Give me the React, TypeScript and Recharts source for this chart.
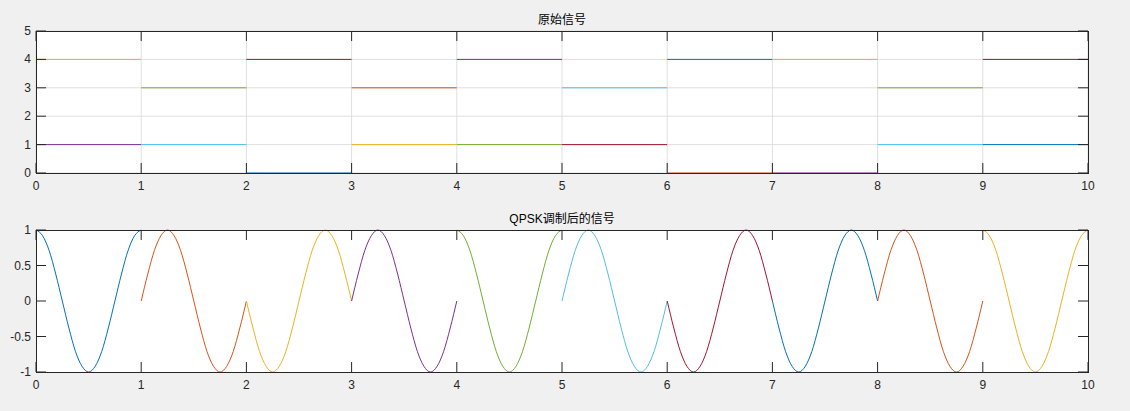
import React from "react";
import { LineChart, Line, XAxis, YAxis, CartesianGrid } from "recharts";

// MATLAB default color order
const palette = ["#0072BD", "#D95319", "#EDB120", "#7E2F8E", "#77AC30", "#4DBEEE", "#A2142F"];

const xTicks = [0, 1, 2, 3, 4, 5, 6, 7, 8, 9, 10];
const topYTicks = [0, 1, 2, 3, 4, 5];
const bottomYTicks = [-1, -0.5, 0, 0.5, 1];
const bottomYLabels = ["-1", "-0.5", "0", "0.5", "1"];

// 原始信号: two levels per symbol interval
const levelsHigh = [4, 3, 4, 3, 4, 3, 4, 4, 3, 4];
const levelsLow = [1, 1, 0, 1, 1, 1, 0, 0, 1, 1];

// QPSK: carrier shape of each interval
const carrierShape = ["cos", "sin", "-sin", "sin", "cos", "sin", "-sin", "-sin", "sin", "cos"];

// samples read at 1/16 period
const cosSamples = [1, 0.92, 0.71, 0.38, 0, -0.38, -0.71, -0.92, -1, -0.92, -0.71, -0.38, 0, 0.38, 0.71, 0.92, 1];
const sinSamples = [0, 0.38, 0.71, 0.92, 1, 0.92, 0.71, 0.38, 0, -0.38, -0.71, -0.92, -1, -0.92, -0.71, -0.38, 0];
const negSinSamples = [0, -0.38, -0.71, -0.92, -1, -0.92, -0.71, -0.38, 0, 0.38, 0.71, 0.92, 1, 0.92, 0.71, 0.38, 0];

const shapes: Record<string, number[]> = { cos: cosSamples, sin: sinSamples, "-sin": negSinSamples };

const W = 1130;
const LEFT = 36;
const RIGHT = 1088;
const AXIS_W = 30;
const AXIS_H = 20;
const FONT = "'Liberation Sans', Arial, 'Noto Sans CJK SC', sans-serif";
const INK = "#262626";

const topSegments = levelsHigh.flatMap((h, i) => [
  { key: `h${i}`, color: palette[(2 + 2 * i) % 7], data: [{ x: i, y: h }, { x: i + 1, y: h }] },
  { key: `l${i}`, color: palette[(3 + 2 * i) % 7], data: [{ x: i, y: levelsLow[i] }, { x: i + 1, y: levelsLow[i] }] },
]);

const bottomSegments = carrierShape.map((s, i) => ({
  key: `q${i}`,
  color: palette[i % 7],
  data: shapes[s].map((v, k) => ({ x: i + k / 16, y: v })),
}));

const makeXTick = (top: number, bottom: number) => (props: any) => {
  const { x, payload } = props;
  return (
    <g>
      <line x1={x} x2={x} y1={bottom} y2={bottom - 10} stroke={INK} />
      <line x1={x} x2={x} y1={top} y2={top + 10} stroke={INK} />
      <text x={x} y={bottom + 17} textAnchor="middle" fontSize={12} fill={INK} fontFamily={FONT}>
        {payload.value}
      </text>
    </g>
  );
};

const makeYTick = (labels?: string[], values?: number[]) => (props: any) => {
  const { y, payload } = props;
  const label = labels && values ? labels[values.indexOf(payload.value)] : String(payload.value);
  return (
    <g>
      <line x1={LEFT} x2={LEFT + 10} y1={y} y2={y} stroke={INK} />
      <line x1={RIGHT} x2={RIGHT - 10} y1={y} y2={y} stroke={INK} />
      <text x={LEFT - 5} y={y + 4} textAnchor="end" fontSize={12} fill={INK} fontFamily={FONT}>
        {label}
      </text>
    </g>
  );
};

const Box: React.FC<{ top: number; height: number }> = ({ top, height }) => (
  <div
    style={{
      position: "absolute",
      left: LEFT,
      top,
      width: RIGHT - LEFT + 1,
      height: height + 1,
      boxSizing: "border-box",
      border: `1px solid ${INK}`,
      pointerEvents: "none",
    }}
  />
);

const Title: React.FC<{ top: number; text: string }> = ({ top, text }) => (
  <div
    style={{
      position: "absolute",
      left: LEFT,
      width: RIGHT - LEFT,
      top,
      textAlign: "center",
      fontSize: 12,
      lineHeight: "14px",
      color: "#000",
      fontFamily: FONT,
    }}
  >
    {text}
  </div>
);

export default function App() {
  return (
    <div style={{ position: "absolute", left: 0, top: 0, width: W, height: 411, background: "#F0F0F0", overflow: "hidden" }}>
      <Title top={13} text="原始信号" />
      <div style={{ position: "absolute", left: 0, top: 0 }}>
        <LineChart
          width={W}
          height={200}
          margin={{ top: 31, left: LEFT - AXIS_W, right: W - RIGHT, bottom: 27 - AXIS_H }}
        >
          <CartesianGrid stroke="#DFDFDF" fill="#fff" />
          <XAxis
            type="number"
            dataKey="x"
            domain={[0, 10]}
            ticks={xTicks}
            height={AXIS_H}
            axisLine={false}
            tickLine={false}
            tick={makeXTick(31, 173)}
            interval={0}
          />
          <YAxis
            type="number"
            dataKey="y"
            domain={[0, 5]}
            ticks={topYTicks}
            width={AXIS_W}
            axisLine={false}
            tickLine={false}
            tick={makeYTick()}
            interval={0}
          />
          {topSegments.map((s) => (
            <Line
              key={s.key}
              data={s.data}
              dataKey="y"
              type="linear"
              stroke={s.color}
              strokeWidth={1}
              dot={false}
              isAnimationActive={false}
            />
          ))}
        </LineChart>
      </div>
      <Box top={31} height={142} />

      <Title top={212} text="QPSK调制后的信号" />
      <div style={{ position: "absolute", left: 0, top: 200 }}>
        <LineChart
          width={W}
          height={211}
          margin={{ top: 30, left: LEFT - AXIS_W, right: W - RIGHT, bottom: 39 - AXIS_H }}
        >
          <CartesianGrid horizontal={false} vertical={false} fill="#fff" />
          <XAxis
            type="number"
            dataKey="x"
            domain={[0, 10]}
            ticks={xTicks}
            height={AXIS_H}
            axisLine={false}
            tickLine={false}
            tick={makeXTick(30, 172)}
            interval={0}
          />
          <YAxis
            type="number"
            dataKey="y"
            domain={[-1, 1]}
            ticks={bottomYTicks}
            width={AXIS_W}
            axisLine={false}
            tickLine={false}
            tick={makeYTick(bottomYLabels, bottomYTicks)}
            interval={0}
          />
          {bottomSegments.map((s) => (
            <Line
              key={s.key}
              data={s.data}
              dataKey="y"
              type="monotone"
              stroke={s.color}
              strokeWidth={1}
              dot={false}
              isAnimationActive={false}
            />
          ))}
        </LineChart>
      </div>
      <Box top={230} height={142} />
    </div>
  );
}
